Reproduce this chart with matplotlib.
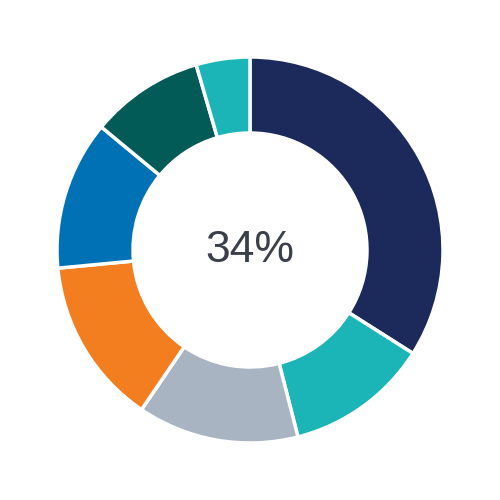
import matplotlib.pyplot as plt

# segment shares, clockwise from 12 o'clock
labels = ["A", "B", "C", "D", "E", "F", "G"]
values = [34, 12, 13.5, 14, 12.5, 9.5, 4.5]
colors = ["#1b2a5a", "#1bb5b8", "#a9b4c2", "#f37e20", "#0071b5", "#035b57", "#1bb5b8"]
center_text = "34%"

fig = plt.figure(figsize=(5, 5), dpi=100)
ax = fig.add_axes([0, 0, 1, 1])
ax.pie(values, colors=colors, startangle=90, counterclock=False, radius=193,
       wedgeprops=dict(width=76, edgecolor="white", linewidth=2.5))
ax.text(0, 4, center_text, ha="center", va="center_baseline", fontsize=32,
        color="#3a3f4a", family="Liberation Sans")
ax.set_xlim(-250, 250)
ax.set_ylim(-250, 250)
ax.set_aspect("equal")
ax.axis("off")
fig.savefig("out.png", dpi=100, facecolor="white")
